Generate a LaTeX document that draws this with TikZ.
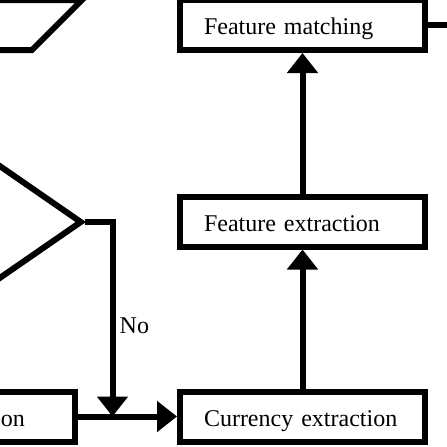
\documentclass[tikz,border=0pt]{standalone}
\usepackage{fontspec}
\setmainfont{Liberation Serif}
\usetikzlibrary{arrows.meta,shapes.geometric}
\begin{document}
\begin{tikzpicture}[x=1pt,y=-1pt,
  lw/.style={line width=6pt},
  box/.style={draw,lw,minimum width=245pt,minimum height=50pt,inner ysep=0pt,
    inner xsep=24pt,text width=197pt,align=left,text height=22pt,text depth=3pt,
    font=\fontsize{24}{28}\selectfont},
  arr/.style={lw,-{Triangle[width=30pt,length=20pt]}},
  lbl/.style={font=\fontsize{24}{28}\selectfont,inner sep=0pt}]
\useasboundingbox (0,0) rectangle (447,447);
% partial parallelogram
\draw[lw,line join=miter] (-150,0) -- (82,0) -- (32,50) -- (-150,50);
% decision diamond (mostly off-picture)
\node[draw,lw,shape=diamond,minimum width=404pt,minimum height=280pt,inner sep=0pt] (dec) at (-120,222) {};
% boxes
\node[box] (fm) at (302.5,25) {Feature matching};
\node[box] (fe) at (302.5,221.5) {Feature extraction};
\node[box] (ce) at (302.5,416.5) {Currency extraction};
\node[draw,lw,minimum width=275pt,minimum height=50pt,inner ysep=0pt,inner xsep=50pt,
  text width=175pt,align=right,text height=22pt,text depth=3pt,
  font=\fontsize{24}{28}\selectfont] (lb) at (-62.5,416.5) {on};
\coordinate (rt) at (452,25);
\coordinate (j) at (112.5,416.5);
% connectors
\draw[arr] (ce.north) -- (fe.south);
\draw[arr] (fe.north) -- (fm.south);
\draw[lw] (fm.east) -- (rt);
\draw[arr] (lb.east) -- (ce.west);
\draw[arr,line join=miter] (dec.east) -| (j);
\node[lbl,anchor=west] (no) at (119.5,326) {No};
\end{tikzpicture}
\end{document}
